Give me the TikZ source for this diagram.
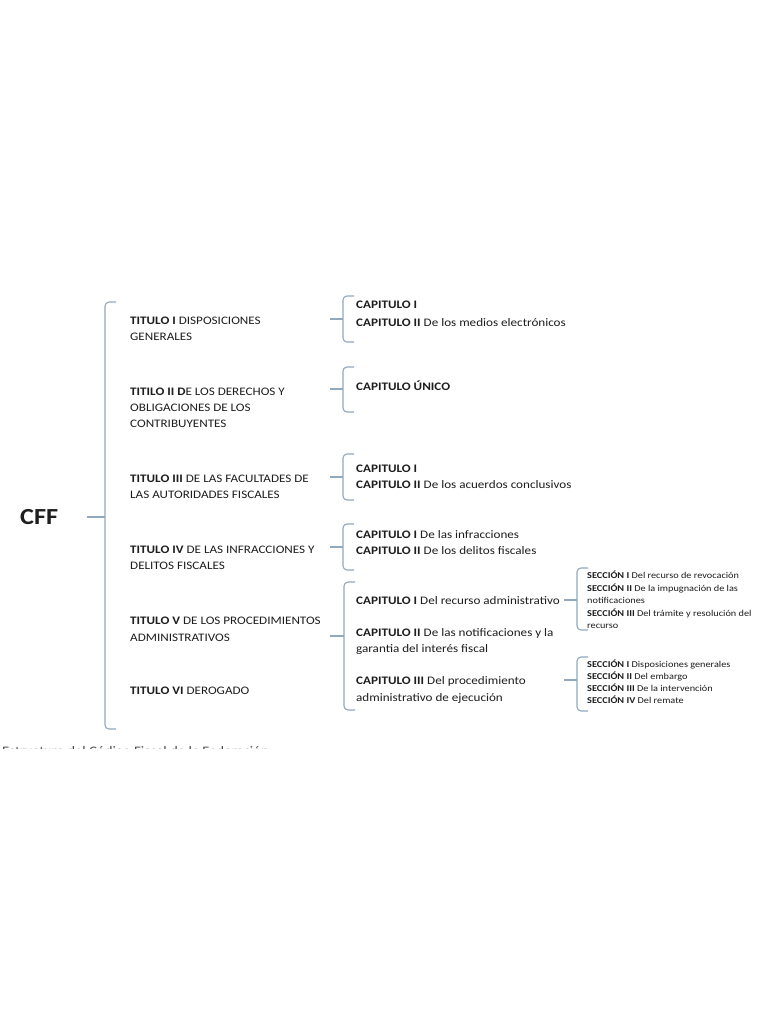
\documentclass[tikz,border=0pt]{standalone}
\usepackage{fontspec}
\setmainfont{Carlito}[FakeStretch=1.14]
\definecolor{txt}{RGB}{30,30,30}
\definecolor{llavecol}{RGB}{145,168,192}
\newcommand{\llave}[5]{%
	\draw[llave] (#1+11,#2) -- (#1,#2) -- (#1,#4) -- (#1+11,#4);
	\draw[llave] (#1,#3) -- (#5,#3);}
\tikzset{
	tit/.style={anchor=base west, inner sep=0pt, text=txt, font=\fontsize{11.5}{14}\selectfont},
	capit/.style={tit},
	secc/.style={tit, font=\fontsize{9}{11}\selectfont},
	llave/.style={draw=llavecol, line width=1.1pt, rounded corners=4pt}
}
\begin{document}
\begin{tikzpicture}[x=1pt,y=-1pt]
			\useasboundingbox[fill=white] (0,0) rectangle (768,1024);
			
			\node[tit, font=\fontsize{23}{26}\bfseries] (cff) at (20,524) {CFF};
			\llave{105}{302}{517}{729}{87}
			
			\node[tit] (t1a) at (130,324) {\textbf{TITULO I} DISPOSICIONES};
			\node[tit] (t1b) at (130,340) {GENERALES};
			\node[tit] (t2a) at (130,395) {\textbf{TITILO II D}E LOS DERECHOS Y};
			\node[tit] (t2b) at (130,411) {OBLIGACIONES DE LOS};
			\node[tit] (t2c) at (130,427) {CONTRIBUYENTES};
			\node[tit] (t3a) at (130,482) {\textbf{TITULO III} DE LAS FACULTADES DE};
			\node[tit] (t3b) at (130,498) {LAS AUTORIDADES FISCALES};
			\node[tit] (t4a) at (130,553) {\textbf{TITULO IV} DE LAS INFRACCIONES Y};
			\node[tit] (t4b) at (130,569) {DELITOS FISCALES};
			\node[tit] (t5a) at (130,624) {\textbf{TITULO V} DE LOS PROCEDIMIENTOS};
			\node[tit] (t5b) at (130,641) {ADMINISTRATIVOS};
			\node[tit] (t6) at (130,694) {\textbf{TITULO VI} DEROGADO};
			
			% capitulos
			\llave{343}{296}{319}{342}{330}
			\llave{343}{367}{389}{412}{330}
			\llave{343}{454}{477}{500}{330}
			\llave{343}{524}{547}{570}{330}
			\llave{344}{582}{636}{710}{330}
			\node[capit] (c1a) at (356,308) {\textbf{CAPITULO I}};
			\node[capit] (c1b) at (356,326) {\textbf{CAPITULO II} De los medios electrónicos};
			\node[capit] (c2) at (356,390) {\textbf{CAPITULO ÚNICO}};
			\node[capit] (c3a) at (356,472) {\textbf{CAPITULO I}};
			\node[capit] (c3b) at (356,488) {\textbf{CAPITULO II} De los acuerdos conclusivos};
			\node[capit] (c4a) at (356,538) {\textbf{CAPITULO I} De las infracciones};
			\node[capit] (c4b) at (356,554) {\textbf{CAPITULO II} De los delitos fiscales};
			\node[capit] (c5a) at (356,604) {\textbf{CAPITULO I} Del recurso administrativo};
			\node[capit] (c5b) at (356,636) {\textbf{CAPITULO II} De las notificaciones y la};
			\node[capit] (c5c) at (356,652) {garantia del interés fiscal};
			\node[capit] (c6a) at (356,684) {\textbf{CAPITULO III} Del procedimiento};
			\node[capit] (c6b) at (356,701) {administrativo de ejecución};
			
			% secciones
			\llave{577}{568}{600}{630}{564}
			\llave{577}{657}{680}{711}{564}
			\node[secc] (s1a) at (587,578) {\textbf{SECCIÓN I} Del recurso de revocación};
			\node[secc] (s1b) at (587,591) {\textbf{SECCIÓN II} De la impugnación de las};
			\node[secc] (s1c) at (587,603) {notificaciones};
			\node[secc] (s1d) at (587,616) {\textbf{SECCIÓN III} Del trámite y resolución del};
			\node[secc] (s1e) at (587,628) {recurso};
			\node[secc] (s2a) at (587,667) {\textbf{SECCIÓN I} Disposiciones generales};
			\node[secc] (s2b) at (587,679) {\textbf{SECCIÓN II} Del embargo};
			\node[secc] (s2c) at (587,691) {\textbf{SECCIÓN III} De la intervención};
			\node[secc] (s2d) at (587,703) {\textbf{SECCIÓN IV} Del remate};
			
			\begin{scope}
				\clip (0,740) rectangle (400,748.5);
				\node[tit, text=black!70, font=\fontsize{13}{15}\selectfont] (pie) at (2,755.5) {Estructura del Código Fiscal de la Federación};
			\end{scope}
\end{tikzpicture}
\end{document}
